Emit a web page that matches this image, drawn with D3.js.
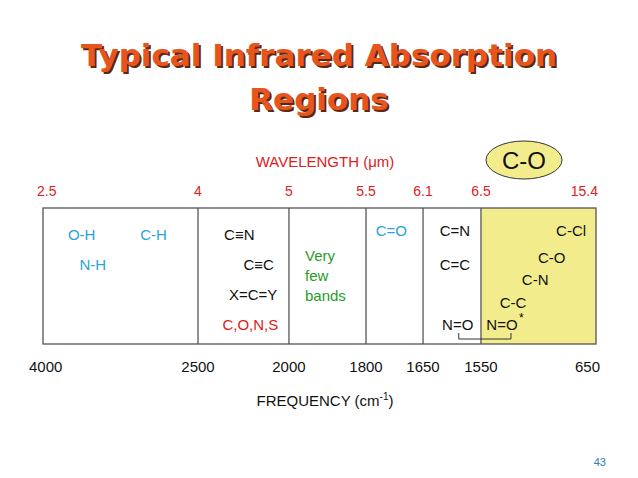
<!DOCTYPE html><html><head><meta charset="utf-8">
<script src="https://cdn.jsdelivr.net/npm/d3@7"></script>
<style>body{margin:0;background:#fff}svg{display:block}</style></head><body>
<script>
const wavelengths=["2.5","4","5","5.5","6.1","6.5","15.4"];
const frequencies=["4000","2500","2000","1800","1650","1550","650"];
const boundaryFrac=[0,0.2803,0.4448,0.5841,0.6872,0.7920,1];
const groups=[
 {t:"O-H",f:0.07,r:0,c:"#2aa3d8"},{t:"C-H",f:0.20,r:0,c:"#2aa3d8"},{t:"N-H",f:0.09,r:1,c:"#2aa3d8"},
 {t:"C≡N",f:0.355,r:0,c:"#111"},{t:"C≡C",f:0.39,r:1,c:"#111"},{t:"X=C=Y",f:0.38,r:2,c:"#111"},{t:"C,O,N,S",f:0.375,r:3,c:"#e02020"},
 {t:"C=O",f:0.63,r:0,c:"#2aa3d8",dy:-4},{t:"C=N",f:0.745,r:0,c:"#111",dy:-4},{t:"C=C",f:0.745,r:1,c:"#111"},
 {t:"C-Cl",f:0.955,r:0,c:"#111",dy:-4},{t:"C-O",f:0.92,r:0.75,c:"#111"},{t:"C-N",f:0.89,r:1.5,c:"#111"},{t:"C-C",f:0.85,r:2.25,c:"#111"},
 {t:"N=O",f:0.75,r:3,c:"#111"},{t:"N=O",f:0.83,r:3,c:"#111"}
];
const W=638,H=478;
const svg=d3.select("body").append("svg").attr("width",W).attr("height",H).style("font-family","Liberation Sans, Arial, sans-serif");
const x=d3.scaleLinear().domain([0,1]).range([43,596]);
const y=d3.scaleLinear().domain([0,3]).range([240,330]);
const boxTop=208,boxBot=344;
const tt=svg.append("g").style("font-family","DejaVu Sans").style("font-weight","bold").style("font-size","31px").attr("text-anchor","middle");
[["Typical Infrared Absorption",66],["Regions",110]].forEach(([s,yy])=>{
 tt.append("text").attr("x",W/2+2).attr("y",yy+2).attr("fill","#5a2a10").text(s);
 tt.append("text").attr("x",W/2).attr("y",yy).attr("fill","#e8541e").text(s);
});
svg.append("rect").attr("x",x(boundaryFrac[5])).attr("y",boxTop).attr("width",x(1)-x(boundaryFrac[5])).attr("height",boxBot-boxTop).attr("fill","#f3ec8c");
svg.append("rect").attr("x",x(0)).attr("y",boxTop).attr("width",x(1)-x(0)).attr("height",boxBot-boxTop).attr("fill","none").attr("stroke","#555").attr("stroke-width",1.3);
boundaryFrac.slice(1,-1).forEach(f=>svg.append("line").attr("x1",x(f)).attr("x2",x(f)).attr("y1",boxTop).attr("y2",boxBot).attr("stroke","#555").attr("stroke-width",1.3));
svg.append("text").attr("x",325).attr("y",167).attr("text-anchor","middle").attr("fill","#e02020").attr("font-size","15px").text("WAVELENGTH (μm)");
svg.append("ellipse").attr("cx",524).attr("cy",160).attr("rx",38).attr("ry",19).attr("fill","#f3ec8c").attr("stroke","#333");
svg.append("text").attr("x",524).attr("y",169).attr("text-anchor","middle").attr("font-size","24px").attr("fill","#111").text("C-O");
const wa=["start","middle","middle","middle","middle","middle","end"];
wavelengths.forEach((w,i)=>svg.append("text").attr("x",x(boundaryFrac[i])+(i==0?-6:i==6?2:0)).attr("y",196).attr("text-anchor",wa[i]).attr("fill","#e02020").attr("font-size","14px").text(w));
frequencies.forEach((w,i)=>svg.append("text").attr("x",x(boundaryFrac[i])+(i==0?-14:i==6?4:0)).attr("y",372).attr("text-anchor",wa[i]).attr("fill","#111").attr("font-size","15px").text(w));
const xt=svg.append("text").attr("x",325).attr("y",406).attr("text-anchor","middle").attr("font-size","15px").attr("fill","#111");
xt.append("tspan").text("FREQUENCY (cm");xt.append("tspan").attr("font-size","10px").attr("dy",-6).text("-1");xt.append("tspan").attr("dy",6).text(")");
groups.forEach(g=>svg.append("text").attr("x",x(g.f)).attr("y",y(g.r)+(g.dy||0)).attr("text-anchor","middle").attr("font-size","15px").attr("fill",g.c).text(g.t));
["Very","few","bands"].forEach((s,i)=>svg.append("text").attr("x",305).attr("y",261+i*20).attr("fill","#2a9a2a").attr("font-size","15px").text(s));
svg.append("text").attr("x",x(0.83)+17).attr("y",y(3)-8).attr("font-size","12px").text("*");
svg.append("path").attr("d",`M${x(0.75)+1},${y(3)+3}v6h${x(0.83)-x(0.75)+8}v-6`).attr("fill","none").attr("stroke","#333");
svg.append("text").attr("x",606).attr("y",466).attr("text-anchor","end").attr("fill","#2a7ab8").attr("font-size","11px").text("43");
</script></body></html>
